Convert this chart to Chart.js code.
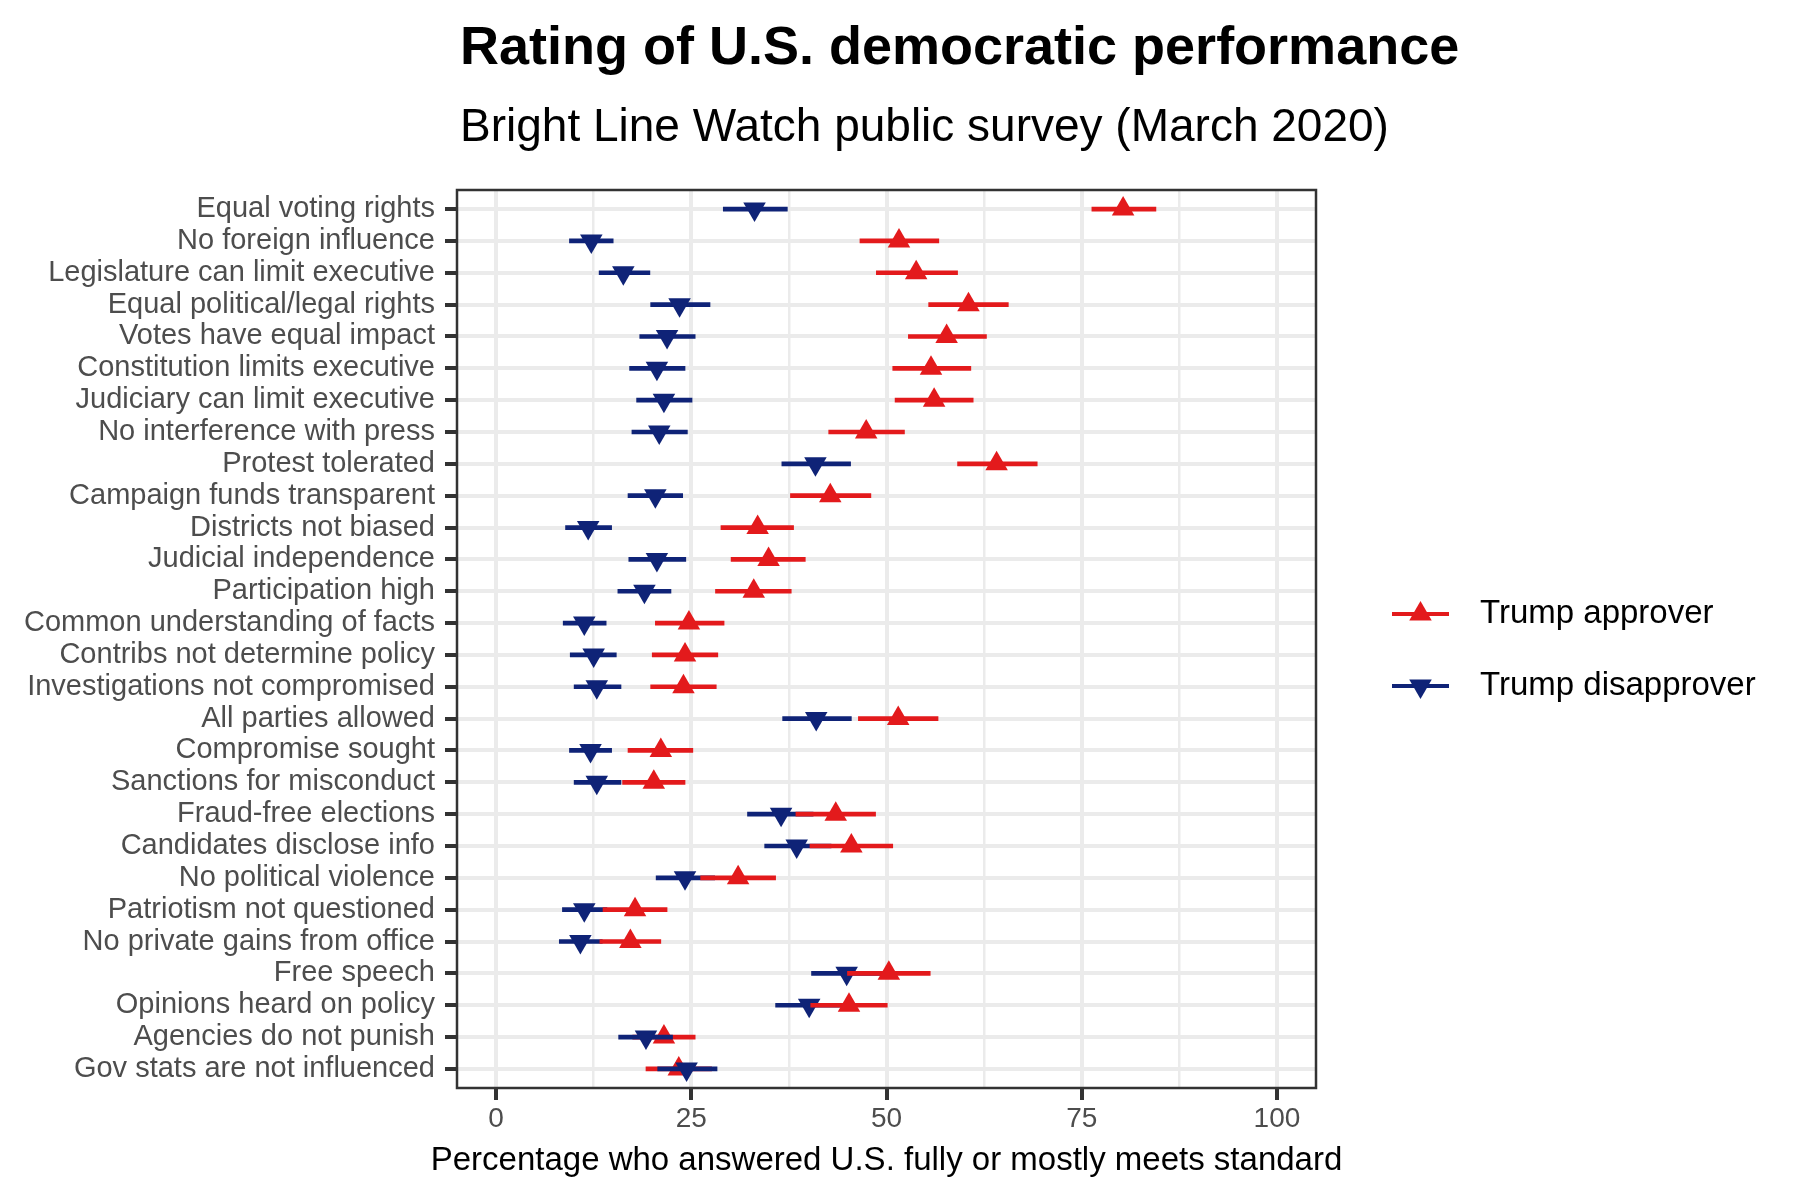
<!DOCTYPE html>
<html>
<head>
<meta charset="utf-8">
<script src="https://cdn.jsdelivr.net/npm/chart.js@4.4.1/dist/chart.umd.min.js"></script>
<style>
  html, body { margin: 0; padding: 0; background: #fff; }
  #wrap { width: 1800px; height: 1200px; position: relative; }
</style>
</head>
<body>
<div id="wrap"><canvas id="chart"></canvas></div>
<script>
const categories = [
  "Equal voting rights", "No foreign influence", "Legislature can limit executive",
  "Equal political/legal rights", "Votes have equal impact", "Constitution limits executive",
  "Judiciary can limit executive", "No interference with press", "Protest tolerated",
  "Campaign funds transparent", "Districts not biased", "Judicial independence",
  "Participation high", "Common understanding of facts", "Contribs not determine policy",
  "Investigations not compromised", "All parties allowed", "Compromise sought",
  "Sanctions for misconduct", "Fraud-free elections", "Candidates disclose info",
  "No political violence", "Patriotism not questioned", "No private gains from office",
  "Free speech", "Opinions heard on policy", "Agencies do not punish",
  "Gov stats are not influenced"
];

// Trump approvers (red, up triangle)
const approverMean = [80.3, 51.6, 53.8, 60.5, 57.7, 55.7, 56.1, 47.4, 64.1, 42.8, 33.5, 34.9, 33.0, 24.7,
  24.2, 24.0, 51.5, 21.1, 20.2, 43.5, 45.5, 31.0, 17.8, 17.2, 50.3, 45.2, 21.5, 23.4];
const approverLow = [76.3, 46.6, 48.7, 55.4, 52.8, 50.8, 51.1, 42.6, 59.1, 37.7, 28.8, 30.1, 28.1, 20.4,
  20.0, 19.8, 46.4, 16.9, 16.2, 38.4, 40.2, 26.2, 13.7, 13.3, 45.0, 40.3, 17.5, 19.2];
const approverHigh = [84.5, 56.7, 59.1, 65.6, 62.8, 60.8, 61.1, 52.3, 69.3, 48.0, 38.1, 39.6, 37.8, 29.2,
  28.4, 28.2, 56.6, 25.2, 24.2, 48.6, 50.8, 35.8, 21.9, 21.1, 55.6, 50.1, 25.5, 27.6];

// Trump disapprovers (blue, down triangle)
const disapproverMean = [33.1, 12.2, 16.3, 23.5, 21.9, 20.6, 21.5, 20.9, 40.9, 20.4, 11.8, 20.6, 19.0, 11.3,
  12.5, 12.9, 41.0, 12.1, 12.9, 36.5, 38.5, 24.2, 11.3, 10.8, 44.9, 40.1, 19.2, 24.4];
const disapproverLow = [29.1, 9.4, 13.2, 19.8, 18.4, 17.1, 18.0, 17.4, 36.6, 16.9, 8.9, 17.0, 15.6, 8.6,
  9.5, 10.0, 36.7, 9.4, 10.0, 32.2, 34.4, 20.5, 8.5, 8.1, 40.4, 35.8, 15.7, 20.7];
const disapproverHigh = [37.3, 15.0, 19.7, 27.4, 25.5, 24.2, 25.1, 24.5, 45.4, 23.9, 14.8, 24.3, 22.4, 14.1,
  15.4, 16.0, 45.5, 14.8, 16.0, 40.6, 42.9, 28.0, 14.2, 13.6, 49.5, 44.3, 22.6, 28.3];

// rows where the disapprover mark sits on top of the approver mark
const blueOnTop = ["Agencies do not punish", "Gov stats are not influenced"];

const xTicks = [0, 25, 50, 75, 100];
const xMinorTicks = [12.5, 37.5, 62.5, 87.5];

const titleText = "Rating of U.S. democratic performance";
const subtitleText = "Bright Line Watch public survey (March 2020)";
const xTitleText = "Percentage who answered U.S. fully or mostly meets standard";

const RED = "#E31A1C";
const BLUE = "#0F2377";
const FONT = "'Liberation Sans', Arial, Helvetica, sans-serif";
const MARK = 13;

Chart.defaults.font.family = FONT;

function rows(front, isBlue) {
  return categories.map((c, i) => i).filter(i => {
    const top = blueOnTop.includes(categories[i]) ? isBlue : !isBlue;
    return front ? top : !top;
  });
}

function barSet(lo, hi, color, front, isBlue) {
  return {
    type: "bar",
    indexAxis: "y",
    grouped: false,
    data: rows(front, isBlue).map(i => ({ y: i, x: [lo[i], hi[i]] })),
    backgroundColor: color,
    borderWidth: 0,
    barThickness: 4,
    order: front ? 20 : 40
  };
}

function pointSet(vals, color, front, isBlue) {
  return {
    type: "scatter",
    data: rows(front, isBlue).map(i => ({ x: vals[i], y: i })),
    pointStyle: "triangle",
    pointRotation: isBlue ? 180 : 0,
    pointRadius: MARK,
    pointHoverRadius: MARK,
    pointBackgroundColor: color,
    pointBorderWidth: 0,
    showLine: false,
    order: front ? 10 : 30
  };
}

const datasets = [];
[true, false].forEach(front => {
  datasets.push(barSet(approverLow, approverHigh, RED, front, false));
  datasets.push(barSet(disapproverLow, disapproverHigh, BLUE, front, true));
  datasets.push(pointSet(approverMean, RED, front, false));
  datasets.push(pointSet(disapproverMean, BLUE, front, true));
});

const legendItems = [
  { label: "Trump approver", color: RED, down: false },
  { label: "Trump disapprover", color: BLUE, down: true }
];

// panel border drawn over the data, like ggplot's theme_bw
const panelBorder = {
  id: "panelBorder",
  afterDraw(chart) {
    const { ctx, chartArea: a } = chart;
    ctx.save();
    ctx.strokeStyle = "#333333";
    ctx.lineWidth = 2.5;
    ctx.strokeRect(a.left, a.top, a.right - a.left, a.bottom - a.top);
    ctx.restore();
  }
};

// titles and axis title (drawn by hand so the text is not squeezed)
const texts = {
  id: "texts",
  afterDraw(chart) {
    const { ctx, chartArea: a } = chart;
    ctx.save();
    ctx.fillStyle = "#000000";
    ctx.textBaseline = "alphabetic";
    ctx.textAlign = "left";
    ctx.font = "bold 54px " + FONT;
    ctx.fillText(titleText, a.left + 3, 64);
    ctx.font = "46px " + FONT;
    ctx.fillText(subtitleText, a.left + 3, 141);
    ctx.textAlign = "center";
    ctx.font = "33px " + FONT;
    ctx.fillText(xTitleText, (a.left + a.right) / 2, 1170);
    ctx.restore();
  }
};

const sideLegend = {
  id: "sideLegend",
  afterDraw(chart) {
    const ctx = chart.ctx;
    const x0 = 1392, y0 = 614, gap = 72;
    ctx.save();
    legendItems.forEach((item, k) => {
      const y = y0 + k * gap;
      ctx.strokeStyle = item.color;
      ctx.fillStyle = item.color;
      ctx.lineWidth = 4;
      ctx.beginPath();
      ctx.moveTo(x0, y);
      ctx.lineTo(x0 + 57, y);
      ctx.stroke();
      const cx = x0 + 28.5, r = MARK, s = item.down ? -1 : 1;
      ctx.beginPath();
      ctx.moveTo(cx, y - s * r);
      ctx.lineTo(cx + r * 0.866, y + s * r * 0.5);
      ctx.lineTo(cx - r * 0.866, y + s * r * 0.5);
      ctx.closePath();
      ctx.fill();
      ctx.fillStyle = "#000000";
      ctx.font = "33px " + FONT;
      ctx.textBaseline = "middle";
      ctx.fillText(item.label, 1480, y);
    });
    ctx.restore();
  }
};

new Chart(document.getElementById("chart"), {
  type: "bar",
  data: { datasets },
  options: {
    responsive: true,
    maintainAspectRatio: false,
    animation: false,
    devicePixelRatio: 1,
    layout: { padding: { left: 0, right: 484, top: 190, bottom: 0 } },
    plugins: {
      legend: { display: false },
      tooltip: { enabled: false }
    },
    scales: {
      x: {
        type: "linear",
        min: -5,
        max: 105,
        offset: false,
        afterBuildTicks: s => {
          s.ticks = xTicks.concat(xMinorTicks).sort((a, b) => a - b).map(v => ({ value: v }));
        },
        afterFit: s => { s.height = 112; },
        ticks: {
          autoSkip: false,
          maxRotation: 0,
          padding: 2,
          color: "#4D4D4D",
          font: { size: 28 },
          callback: v => (xTicks.includes(v) ? String(v) : "")
        },
        grid: {
          offset: false,
          color: "#EBEBEB",
          lineWidth: c => (c.tick && xTicks.includes(c.tick.value) ? 4 : 2.5),
          tickLength: 12,
          tickWidth: 4,
          tickColor: c => (c.tick && xTicks.includes(c.tick.value) ? "#333333" : "rgba(0,0,0,0)")
        },
        border: { display: false }
      },
      y: {
        type: "linear",
        min: -0.6,
        max: categories.length - 0.4,
        reverse: true,
        offset: false,
        beginAtZero: false,
        afterBuildTicks: s => {
          s.ticks = categories.map((c, i) => ({ value: i }));
        },
        afterFit: s => { s.width = 457; },
        ticks: {
          autoSkip: false,
          padding: 10,
          color: "#4D4D4D",
          font: { size: 29 },
          callback: v => categories[v]
        },
        grid: {
          offset: false,
          color: "#EBEBEB",
          lineWidth: 4,
          tickLength: 12,
          tickWidth: 4,
          tickColor: "#333333"
        },
        border: { display: false }
      }
    }
  },
  plugins: [panelBorder, texts, sideLegend]
});
</script>
</body>
</html>
